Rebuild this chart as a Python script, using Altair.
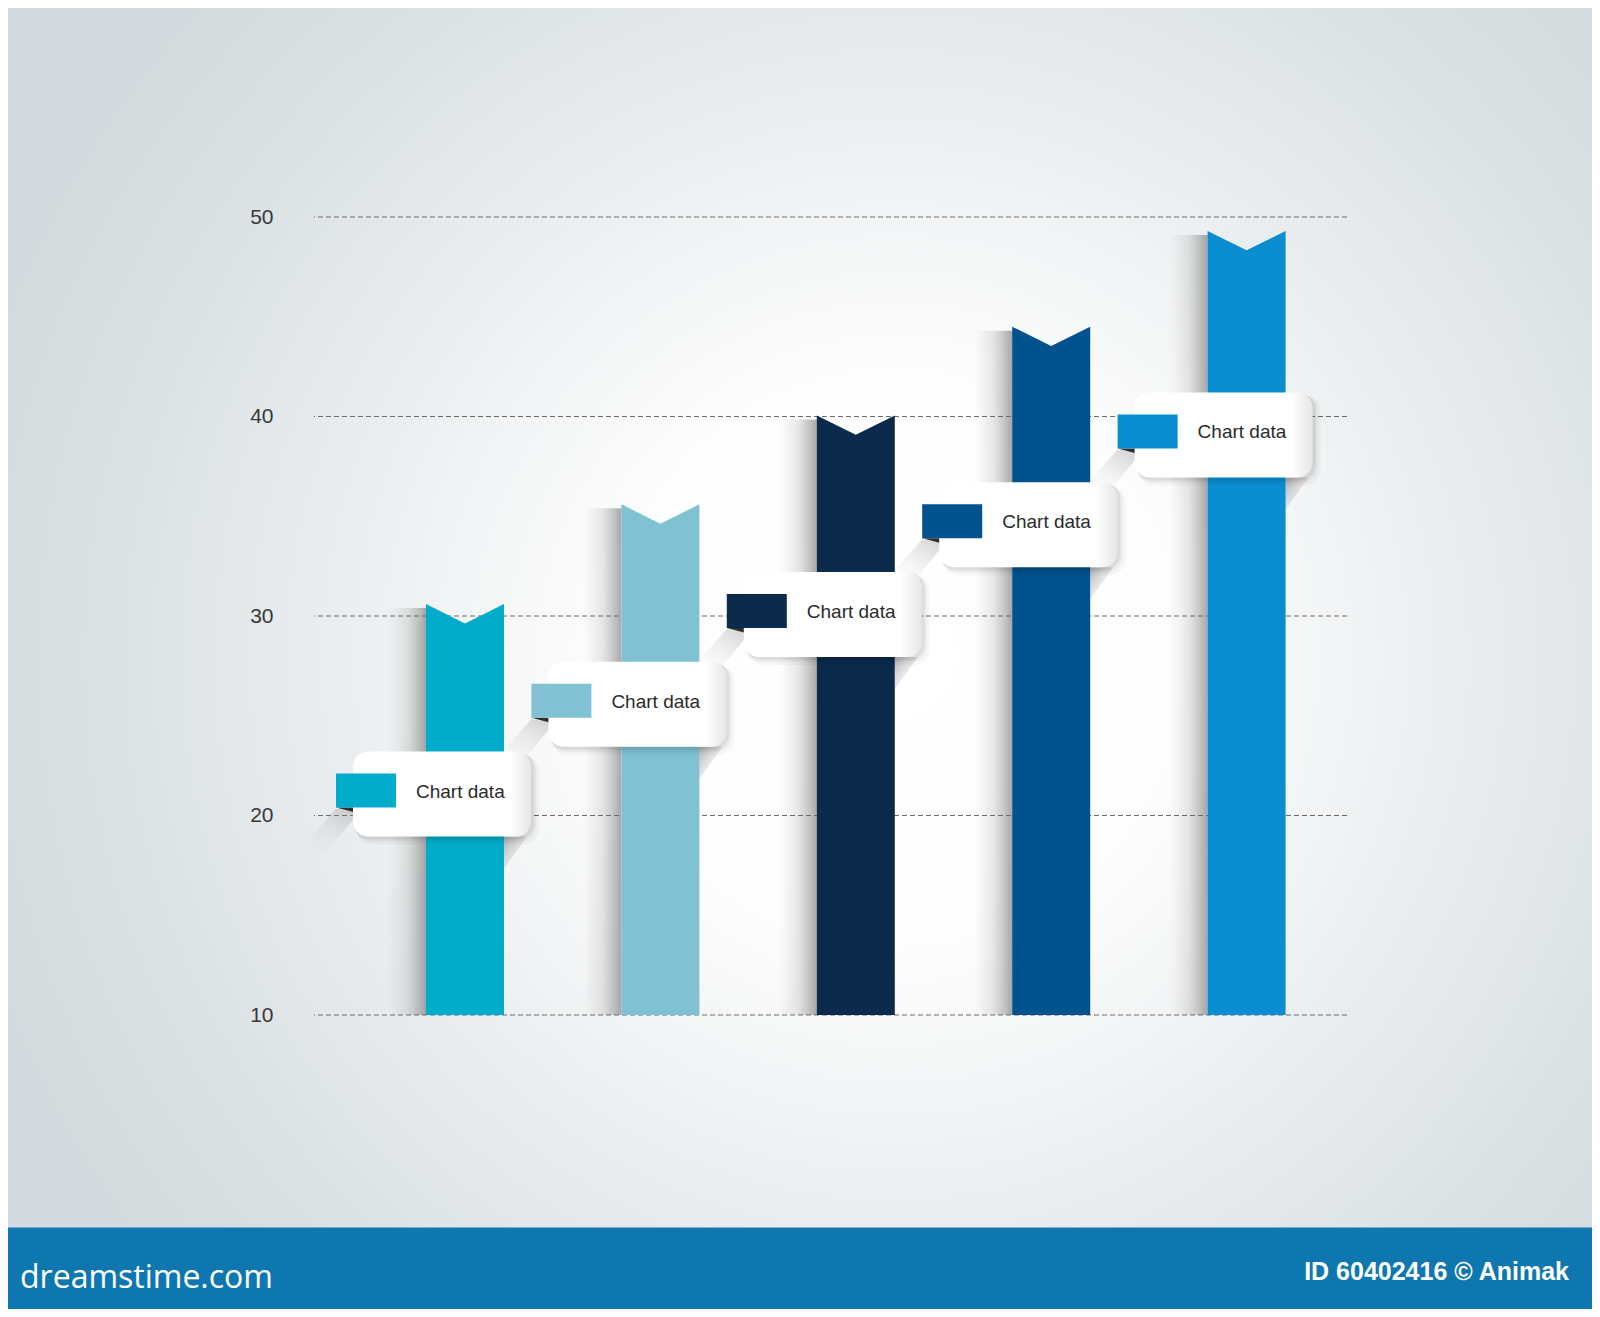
import altair as alt
import pandas as pd

# ---------------- data ----------------
categories = ["Bar 1", "Bar 2", "Bar 3", "Bar 4", "Bar 5"]
bar_values = [30.6, 35.6, 40.05, 44.5, 49.3]
label_values = [21.2, 25.7, 30.2, 34.7, 39.2]
label_texts = ["Chart data", "Chart data", "Chart data", "Chart data", "Chart data"]
bar_colors = ["#00acc9", "#80c1d3", "#0b2a4c", "#02528e", "#0a8ed1"]
y_ticks = [10, 20, 30, 40, 50]
footer_left = ["dreamstime.com"]
footer_right = ["ID 60402416 \u00a9 Animak"]

# ---------------- layout / style ----------------
W, H = 1033, 798
PAD = {"left": 306, "top": 209, "right": 245, "bottom": 294}
SLOT = 195.4            # px between bar centres
HALF = 39.0 / SLOT      # half bar width in x units
NOTCH = 0.97            # notch depth in y units
BASE = 10

xscale = alt.Scale(domain=[-151 / SLOT, (W - 151) / SLOT], nice=False, zero=False)
yscale = alt.Scale(domain=[10, 50], nice=False, zero=False)
cscale = alt.Scale(domain=categories, range=bar_colors)
yaxis = alt.Axis(values=y_ticks, grid=False, domain=False, ticks=False, tickSize=0,
                 labelPadding=41, labelFontSize=21, labelColor="#383838",
                 labelFont="Liberation Sans", title=None, zindex=1)

idx = list(range(len(categories)))
main_df = pd.DataFrame({"cat": categories, "i": idx, "v": bar_values,
                        "lv": label_values, "label": label_texts,
                        "base": [BASE] * len(categories)})

bar_rows = []
for i, (c, v) in enumerate(zip(categories, bar_values)):
    for dx, dy in [(-HALF, 0.0), (0.0, -NOTCH), (HALF, 0.0)]:
        bar_rows.append({"cat": c, "xp": i + dx, "yt": v + dy, "base": BASE})
bars_df = pd.DataFrame(bar_rows)
grid_df = pd.DataFrame({"g": y_ticks})
one = pd.DataFrame({"a": [0]})
fl_df = pd.DataFrame({"t": footer_left})
fr_df = pd.DataFrame({"t": footer_right})

X = lambda f: alt.X(f, type="quantitative", scale=xscale, axis=None)
Y = lambda f: alt.Y(f, type="quantitative", scale=yscale, axis=yaxis)
COL = alt.Color("cat:N", scale=cscale, legend=None)

radial = {"gradient": "radial", "x1": 0.56, "y1": 0.5, "r1": 0,
          "x2": 0.56, "y2": 0.5, "r2": 0.6,
          "stops": [{"offset": 0, "color": "#ffffff"},
                    {"offset": 0.3, "color": "#fdfdfd"},
                    {"offset": 0.58, "color": "#ebeef0"},
                    {"offset": 0.82, "color": "#dce2e4"},
                    {"offset": 1, "color": "#d4dadd"}]}
shadow_grad = {"gradient": "linear", "x1": 0, "y1": 0, "x2": 1, "y2": 0,
               "stops": [{"offset": 0, "color": "rgba(170,170,170,0)"},
                         {"offset": 0.5, "color": "rgba(150,150,150,0.22)"},
                         {"offset": 1, "color": "rgba(115,115,115,0.62)"}]}
fold_grad = {"gradient": "linear", "x1": 0, "y1": 0, "x2": 0.8, "y2": 0.8,
             "stops": [{"offset": 0, "color": "rgba(110,110,110,0.55)"},
                       {"offset": 1, "color": "rgba(190,190,190,0.03)"}]}
band_grad = {"gradient": "linear", "x1": 0.8, "y1": 0, "x2": 0.1, "y2": 1,
             "stops": [{"offset": 0, "color": "rgba(130,130,130,0.32)"},
                       {"offset": 0.6, "color": "rgba(180,180,180,0.12)"},
                       {"offset": 1, "color": "rgba(210,210,210,0)"}]}
box_grad = {"gradient": "linear", "x1": 0, "y1": 0, "x2": 1, "y2": 0,
            "stops": [{"offset": 0, "color": "#ffffff"},
                      {"offset": 0.88, "color": "#ffffff"},
                      {"offset": 1, "color": "#e6e6e6"}]}

# ---------------- layers ----------------
bg = alt.Chart(one).mark_rect(fill=radial).encode(
    x=alt.value(-306), x2=alt.value(1278), y=alt.value(-209), y2=alt.value(1092))

footer = alt.Chart(one).mark_rect(color="#0f77b0").encode(
    x=alt.value(-306), x2=alt.value(1278), y=alt.value(1010.5), y2=alt.value(1092))
footer_l = alt.Chart(fl_df).mark_text(align="left", baseline="middle", font="Open Sans",
                                      fontSize=32, color="#ffffff").encode(
    x=alt.value(-294), y=alt.value(1061), text="t:N")
footer_r = alt.Chart(fr_df).mark_text(align="right", baseline="middle", font="Liberation Sans",
                                      fontSize=25, fontWeight="bold", color="#ffffff").encode(
    x=alt.value(1255), y=alt.value(1055), text="t:N")

bar_shadow = alt.Chart(main_df).mark_rect(fill=shadow_grad, xOffset=-39 - 38, x2Offset=-39,
                                          yOffset=4).encode(
    x=X("i"), x2="i", y=Y("v"), y2="base")

grid = alt.Chart(grid_df).mark_rule(color="#6b6b6b", strokeDash=[5, 3], strokeWidth=1).encode(
    y=Y("g"))

bars = alt.Chart(bars_df).mark_area(opacity=1).encode(
    x=X("xp"), y=Y("yt"), y2="base", color=COL)

right_fold = alt.Chart(main_df).mark_point(
    shape="M -1 -1 L 0.45 -1 L -1 1 Z", size=1024, filled=True, fill=fold_grad,
    opacity=1, strokeWidth=0, xOffset=55, yOffset=61).encode(x=X("i"), y=Y("lv"))

left_band = alt.Chart(main_df).mark_point(
    shape="M 0.114 -0.74 L 0.77 -0.63 L -0.2 0.54 L -0.77 0.26 Z", size=4900,
    filled=True, fill=band_grad, opacity=1, strokeWidth=0,
    xOffset=-133, yOffset=43).encode(x=X("i"), y=Y("lv"))

wedge = alt.Chart(main_df).mark_point(
    shape="M -0.9 -0.3 L 1 -0.3 L 1 0.2 Z", size=400, filled=True, fill="#2e2e2e",
    opacity=1, strokeWidth=0, xOffset=-120, yOffset=19).encode(x=X("i"), y=Y("lv"))

box_shadows = [
    alt.Chart(main_df).mark_rect(color="#000000", opacity=op, cornerRadius=16,
                                 xOffset=-112 + a, x2Offset=66 + b,
                                 yOffset=-40 + a, y2Offset=45 + b).encode(
        x=X("i"), x2="i", y=Y("lv"), y2="lv")
    for a, b, op in [(3, 8, 0.03), (2, 5, 0.045), (1, 3, 0.06)]
]

box = alt.Chart(main_df).mark_rect(fill=box_grad, cornerRadius=15,
                                   xOffset=-112, x2Offset=66, yOffset=-40, y2Offset=45).encode(
    x=X("i"), x2="i", y=Y("lv"), y2="lv")

swatch = alt.Chart(main_df).mark_rect(xOffset=-129, x2Offset=-69, yOffset=-18, y2Offset=16,
                                      opacity=1).encode(
    x=X("i"), x2="i", y=Y("lv"), y2="lv", color=COL)

label = alt.Chart(main_df).mark_text(align="left", baseline="middle", dx=-49,
                                     font="Liberation Sans", fontSize=19,
                                     color="#2b2b2b").encode(
    x=X("i"), y=Y("lv"), text="label:N")

chart = alt.layer(
    bg, footer, footer_l, footer_r, bar_shadow, grid, bars, right_fold, left_band, wedge,
    *box_shadows, box, swatch, label
).properties(
    width=W, height=H, padding=PAD, autosize=alt.AutoSizeParams(type="none")
).configure_view(stroke=None).configure(background="#ffffff")

chart.save("out.html", embed_options={"renderer": "svg", "actions": False})
